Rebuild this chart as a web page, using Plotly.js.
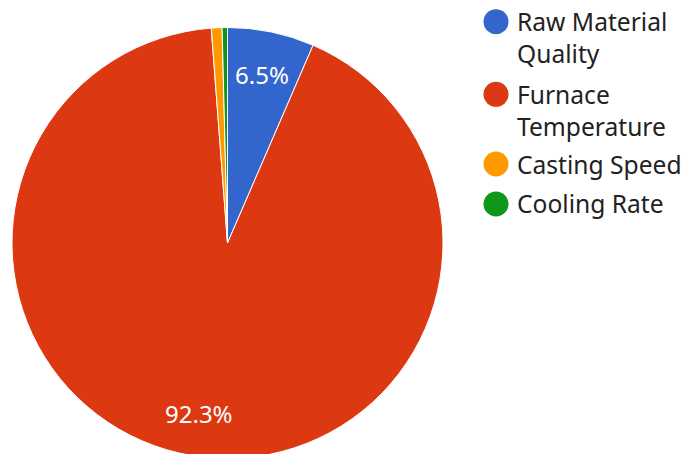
<!DOCTYPE html>
<html>
<head>
<meta charset="utf-8">
<script src="https://cdn.plot.ly/plotly-3.0.1.min.js"></script>
<style>
html,body{margin:0;padding:0;overflow:hidden;background:#fff;}
#chart{width:683px;height:462px;}
</style>
</head>
<body>
<div id="chart"></div>
<script>
const categories = ["Raw Material Quality", "Furnace Temperature", "Casting Speed", "Cooling Rate"];
const legendLines = [["Raw Material", "Quality"], ["Furnace", "Temperature"], ["Casting Speed"], ["Cooling Rate"]];
const shares = [6.5, 92.3, 0.8, 0.4];
const colors = ["#3366cc", "#dc3912", "#ff9900", "#109618"];
const showLabel = [true, true, false, false];

const W = 683, H = 462;
const cx = 227.5, cy = 243, R = 215.5;
const px = v => v / W;
const py = v => 1 - v / H;

const trace = {
  type: "pie",
  labels: categories,
  values: shares,
  sort: false,
  direction: "clockwise",
  rotation: 0,
  marker: {colors: colors, line: {color: "#ffffff", width: 1}},
  textinfo: "none",
  hoverinfo: "label+percent",
  showlegend: false,
  domain: {x: [px(cx - R), px(cx + R)], y: [py(cy + R), py(cy - R)]}
};

const annotations = [];
const shapes = [];

// slice labels placed along each slice's bisector at 0.8 of the radius
const total = shares.reduce((a, b) => a + b, 0);
let acc = 0;
shares.forEach((v, i) => {
  const mid = (acc + v / 2) / total * 2 * Math.PI;
  acc += v;
  if (!showLabel[i]) return;
  const lx = cx + 0.8 * R * Math.sin(mid);
  const ly = cy - 0.8 * R * Math.cos(mid);
  annotations.push({xref: "paper", yref: "paper", x: px(lx), y: py(ly),
    xanchor: "center", yanchor: "middle", showarrow: false,
    text: (v / total * 100).toFixed(1) + "%",
    font: {family: "Noto Sans", size: 24, color: "#ffffff"}});
});

const firstLineY = [21.7, 94.3, 164, 204];
const lineGap = 32;
const dotX = 496, dotR = 12.5, textX = 515;
legendLines.forEach((lines, i) => {
  shapes.push({type: "circle", xref: "paper", yref: "paper",
    x0: px(dotX - dotR), x1: px(dotX + dotR), y0: py(firstLineY[i] + dotR), y1: py(firstLineY[i] - dotR),
    fillcolor: colors[i], line: {width: 0}});
  lines.forEach((t, j) => {
    annotations.push({xref: "paper", yref: "paper", x: px(textX), y: py(firstLineY[i] + j * lineGap),
      xanchor: "left", yanchor: "middle", showarrow: false, text: t,
      font: {family: "Noto Sans", size: 24.6, color: "#222222"}});
  });
});

const layout = {
  width: W, height: H,
  margin: {l: 0, r: 0, t: 0, b: 0},
  paper_bgcolor: "#ffffff",
  showlegend: false,
  annotations: annotations,
  shapes: shapes,
  font: {family: "Noto Sans"}
};

Plotly.newPlot("chart", [trace], layout, {displayModeBar: false, staticPlot: true});
</script>
</body>
</html>
